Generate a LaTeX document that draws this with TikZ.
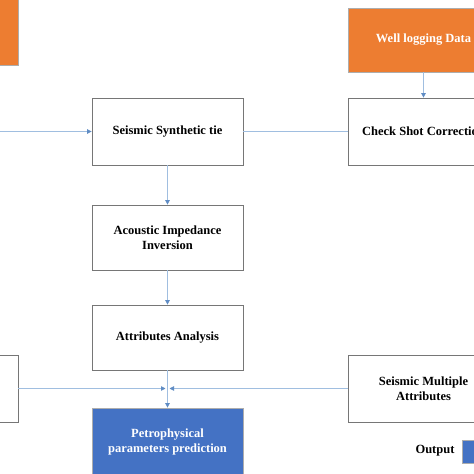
\documentclass[tikz,border=0pt]{standalone}
\usepackage{fontspec}
\setmainfont{Liberation Serif}
\usetikzlibrary{arrows.meta,positioning}
\definecolor{wforange}{RGB}{237,125,49}
\definecolor{wfblue}{RGB}{68,114,196}
\definecolor{wfline}{RGB}{160,190,224}
\definecolor{wfhead}{RGB}{95,140,196}
\definecolor{wfgray}{RGB}{118,118,118}
\begin{document}
\begin{tikzpicture}[x=1pt,y=-1pt,font=\bfseries\fontsize{12.5}{15}\selectfont,
    every node/.style={align=center},
    box/.style={draw=wfgray,line width=0.8pt,fill=white,minimum width=151pt,minimum height=67pt,inner sep=0pt},
    databox/.style={box,draw=wfgray!60,fill=wforange,text=white},
    outbox/.style={box,draw=wfgray!60,fill=wfblue,text=white},
    link/.style={draw=wfline,line width=0.8pt,-{Triangle[length=4.5pt,width=4.5pt,fill=wfhead,color=wfhead]}}]
    \useasboundingbox (0,0) rectangle (474,474);
    \clip (0,0) rectangle (474,474);
    \fill[white] (0,0) rectangle (474,474);
    % inputs
    \node[databox] (seis) at (-57.5,31.5) {};
    \node[databox,minimum height=64pt] (well) at (423.5,40) {Well logging Data};
    \coordinate (in) at (-10,131.5);
    % main column
    \node[box] (synth) at (167.5,131.5) {Seismic Synthetic tie};
    \node[box] (check) at (423.5,131.5) {Check Shot Correction};
    \node[box,minimum height=65pt] (ai) at (167.5,237.5) {Acoustic Impedance\\Inversion};
    \node[box,minimum height=65pt] (attr) at (167.5,337.5) {Attributes Analysis};
    \node[box] (left) at (-57.5,388.5) {};
    \node[box] (multi) at (423.5,388.5) {Seismic Multiple\\Attributes};
    \node[outbox] (petro) at (167.5,441.5) {Petrophysical\\parameters prediction};
    \coordinate (join) at (167.5,388.5);
    % legend
    \node (outtxt) at (435,451) {Output};
    \node[outbox,minimum width=18pt,minimum height=23pt] (outkey) at (471,451.5) {};
    % connectors
    \draw[link] (in) -- (synth);
    \draw[draw=wfline,line width=0.8pt] (synth) -- (check);
    \draw[link] (well) -- (check);
    \draw[link] (synth) -- (ai);
    \draw[link] (ai) -- (attr);
    \draw[link,shorten >=2pt] (left.east) -- (join);
    \draw[link,shorten >=2pt] (multi.west) -- (join);
    \draw[link] (attr) -- (petro);
\end{tikzpicture}
\end{document}
